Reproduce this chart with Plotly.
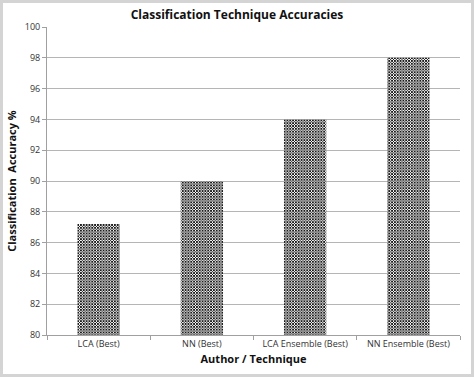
import plotly.graph_objects as go

categories = ["LCA (Best)", "NN (Best)", "LCA Ensemble (Best)", "NN Ensemble (Best)"]
accuracy = [87.2, 90.0, 94.0, 98.0]
y_ticks = list(range(80, 101, 2))

W, H = 474, 377
L, R, T, B = 47, 14, 27, 42
pw, ph = W - L - R, H - T - B

def px_x(x):
    return (x - L) / pw

def px_y(y):
    return (H - B - y) / ph

fig = go.Figure()
fig.add_trace(go.Bar(
    x=categories, y=accuracy, width=0.41,
    marker=dict(color="white", line=dict(width=0),
                pattern=dict(shape="x", fgcolor="#111111", bgcolor="white",
                             size=2, solidity=0.7, fillmode="replace")),
))

font = "Open Sans, Liberation Sans, sans-serif"
fig.update_layout(
    width=W, height=H,
    margin=dict(l=L, r=R, t=T, b=B, pad=0),
    paper_bgcolor="white", plot_bgcolor="white",
    showlegend=False,
    title=dict(text="<b>Classification Technique Accuracies</b>", x=0.5, xanchor="center",
               y=1 - 15 / H, yanchor="middle", font=dict(family=font, size=12, color="#111")),
    font=dict(family=font, size=9, color="#333"),
)
fig.update_yaxes(range=[80, 100], tickvals=y_ticks, showgrid=True, gridcolor="#b5b5b5", gridwidth=1,
                 showline=True, linecolor="#a0a0a0", ticks="outside", ticklen=4, tickcolor="#a0a0a0",
                 zeroline=False,
                 title=dict(text="<b>Classification  Accuracy %</b>", font=dict(family=font, size=11, color="#111"),
                            standoff=5),
                 tickfont=dict(size=9, color="#333"))
fig.update_xaxes(showline=True, linecolor="#a0a0a0", ticks="outside", ticklen=4, tickcolor="#a0a0a0",
                 tickson="boundaries", showgrid=False,
                 title=dict(text="<b>Author / Technique</b>", font=dict(family=font, size=11, color="#111"),
                            standoff=6),
                 tickfont=dict(size=9, color="#333"))

fig.add_shape(type="rect", xref="paper", yref="paper",
              x0=px_x(1.5), x1=px_x(W - 1.5), y0=px_y(H - 1.5), y1=px_y(1.5),
              line=dict(color="#d4d4d4", width=3), layer="below")

fig.write_html("out.html", config={"displayModeBar": False},
               post_script="document.body.style.margin='0';document.body.style.overflow='hidden';")
